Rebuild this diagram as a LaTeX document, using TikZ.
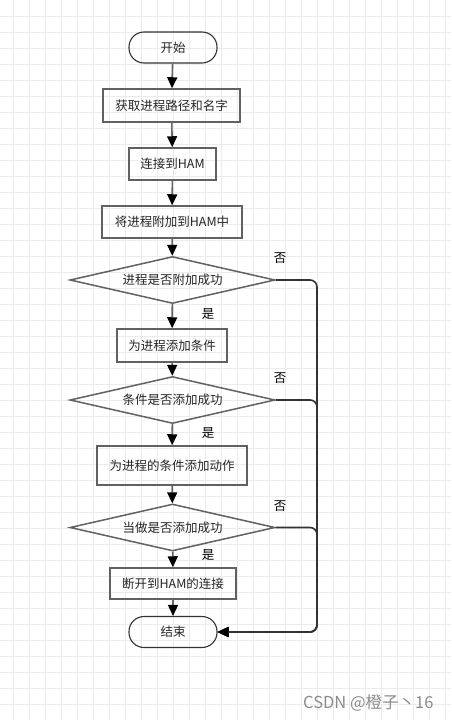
\documentclass[tikz,border=0pt]{standalone}
\usepackage{fontspec}
\setmainfont{Noto Sans CJK SC}
\usetikzlibrary{shapes.geometric}
\usetikzlibrary{arrows.meta}

\begin{document}
\begin{tikzpicture}[x=1pt, y=-1pt,
        gridline/.style={color=black!8, line width=0.9pt},
        box/.style={draw=black!62, line width=1.5pt, inner sep=0pt, text=black!85, font=\fontsize{12.5}{15}\selectfont},
        term/.style={box, draw=black!80, line width=1.1pt, rounded corners=15pt, minimum width=88pt, minimum height=31pt},
        test/.style={box, diamond, aspect=4.36, minimum width=205pt, minimum height=47pt},
        flow/.style={color=black!60, line width=1.6pt, -{Triangle[length=11pt, width=10pt, color=black]}},
        back/.style={flow, color=black!80, rounded corners=7pt},
        tag/.style={text=black, font=\fontsize{12.5}{15}\selectfont}]
                \useasboundingbox (0, 0) rectangle (451, 720);
                \fill[white] (0, 0) rectangle (451, 720);
                % background grid
                \foreach \gx in {0, ..., 27} \draw[gridline] (13.5 + 16*\gx, 0) -- (13.5 + 16*\gx, 720);
                \foreach \gy in {1, ..., 44} \draw[gridline] (0, 16*\gy) -- (451, 16*\gy);
                % steps
                \node[term] (start) at (173, 47.5) {开始};
                \node[box, minimum width=137pt, minimum height=33pt] (path) at (171.5, 105.5) {获取进程路径和名字};
                \node[box, minimum width=87pt, minimum height=32pt] (connect) at (172.5, 164) {连接到HAM};
                \node[box, minimum width=140pt, minimum height=32pt] (attach) at (172, 222) {将进程附加到HAM中};
                \node[test] (attachok) at (172.5, 280) {进程是否附加成功};
                \node[box, minimum width=110pt, minimum height=33pt] (cond) at (172, 345.5) {为进程添加条件};
                \node[test] (condok) at (172.5, 400) {条件是否添加成功};
                \node[box, minimum width=150pt, minimum height=39pt] (action) at (172, 465.5) {为进程的条件添加动作};
                \node[test] (actionok) at (172.5, 527.5) {当做是否添加成功};
                \node[box, minimum width=126pt, minimum height=31pt] (detach) at (173, 583.5) {断开到HAM的连接};
                \node[term] (stop) at (173, 632) {结束};
                \coordinate (rail) at (317, 632);
                % main line
                \draw[flow] (start) -- (path);
                \draw[flow] (path) -- (connect);
                \draw[flow] (connect) -- (attach);
                \draw[flow] (attach) -- (attachok);
                \draw[flow] (attachok) -- (cond);
                \draw[flow] (cond) -- (condok);
                \draw[flow] (condok) -- (action);
                \draw[flow] (action) -- (actionok);
                \draw[flow] (actionok) -- (detach);
                \draw[flow] (detach) -- (stop);
                % failures go to the end
                \draw[back] (attachok.east) -| (rail) -- (stop.east);
                \draw[back] (condok.east) -| (rail) -- (stop.east);
                \draw[back] (actionok.east) -| (rail) -- (stop.east);
                \node[tag] at (208, 314) {是};
                \node[tag] at (208, 433) {是};
                \node[tag] at (208, 555) {是};
                \node[tag] at (280, 258) {否};
                \node[tag] at (280, 378) {否};
                \node[tag] at (280, 506) {否};
                \node[text=black!45, font=\fontsize{16.5}{19}\selectfont, anchor=east] (mark) at (437, 703) {CSDN @橙子丶16};
            \end{tikzpicture}
\end{document}
